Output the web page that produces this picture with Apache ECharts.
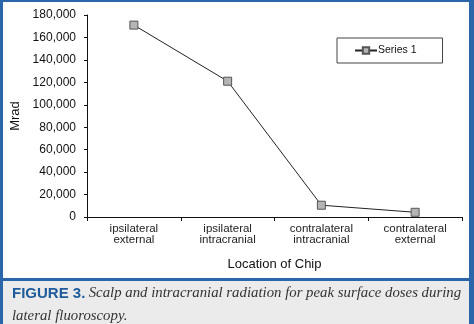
<!DOCTYPE html>
<html><head><meta charset="utf-8">
<script src="https://cdn.jsdelivr.net/npm/echarts@6/dist/echarts.min.js"></script>
<style>html,body{margin:0;padding:0;background:#fff}#c{width:474px;height:324px}</style>
</head><body><div id="c"></div>
<script>
var categories = ['ipsilateral\nexternal', 'ipsilateral\nintracranial', 'contralateral\nintracranial', 'contralateral\nexternal'];
var series1 = [171000, 121000, 10500, 4200];
var yTicks = {min: 0, max: 180000, interval: 20000};
var seriesName = 'Series 1';
var xTitle = 'Location of Chip';
var yTitle = 'Mrad';
var captionHead = 'FIGURE 3.';
var captionLine1 = 'Scalp and intracranial radiation for peak surface doses during';
var captionLine2 = 'lateral fluoroscopy.';

var chart = echarts.init(document.getElementById('c'), null, {renderer: 'canvas'});
var blue = '#2c66aa';
chart.setOption({
  animation: false,
  backgroundColor: '#ffffff',
  textStyle: {fontFamily: 'Liberation Sans'},
  grid: {left: 87, right: 12, top: 15, bottom: 107, containLabel: false},
  legend: {
    left: 337, top: 38,
    padding: [7, 26, 7, 17],
    borderColor: '#444', borderWidth: 1,
    itemWidth: 22, itemHeight: 8, itemGap: 0,
    textStyle: {fontSize: 10.5, color: '#111', padding: [0,0,0,-4]},
    data: [seriesName]
  },
  xAxis: {
    type: 'category', data: categories, boundaryGap: true,
    axisLine: {lineStyle: {color: '#111', width: 1}},
    axisTick: {show: true, length: 4, alignWithLabel: false, lineStyle: {color: '#111'}},
    axisLabel: {fontSize: 11.5, color: '#222', margin: 6, lineHeight: 11, interval: 0},
    name: xTitle, nameLocation: 'middle', nameGap: 41,
    nameTextStyle: {fontSize: 13, color: '#111'}
  },
  yAxis: {
    type: 'value', min: yTicks.min, max: yTicks.max, interval: yTicks.interval,
    splitLine: {show: false},
    axisLine: {show: true, lineStyle: {color: '#111', width: 1}},
    axisTick: {show: true, length: 3, lineStyle: {color: '#111'}},
    axisLabel: {fontSize: 12, color: '#111', margin: 11,
      formatter: function (v) { return v.toLocaleString('en-US'); }},
    name: yTitle, nameLocation: 'middle', nameGap: 64, nameRotate: 90,
    nameTextStyle: {fontSize: 13, color: '#111'}
  },
  series: [{
    name: seriesName, type: 'line', data: series1,
    symbol: 'rect', symbolSize: 8,
    lineStyle: {color: '#222', width: 1},
    itemStyle: {color: '#b5b5b5', borderColor: '#555', borderWidth: 1},
    emphasis: {disabled: true}
  }],
  graphic: [
    {type: 'rect', shape: {x: 0, y: 0, width: 474, height: 2}, style: {fill: blue}, silent: true},
    {type: 'rect', shape: {x: 0, y: 0, width: 3, height: 324}, style: {fill: blue}, silent: true},
    {type: 'rect', shape: {x: 469, y: 0, width: 5, height: 324}, style: {fill: blue}, silent: true},
    {type: 'rect', shape: {x: 3, y: 280, width: 466, height: 44}, style: {fill: '#ebebeb'}, silent: true},
    {type: 'rect', shape: {x: 3, y: 278, width: 466, height: 3}, style: {fill: blue}, silent: true},
    {type: 'text', left: 12, top: 286, silent: true,
      style: {
        text: '{h|' + captionHead + '} {i|' + captionLine1 + '}\n{i|' + captionLine2 + '}',
        rich: {
          h: {fontFamily: 'Liberation Sans', fontWeight: 'bold', fontSize: 15, fill: '#1d5b9a', lineHeight: 23},
          i: {fontFamily: 'Liberation Serif', fontStyle: 'italic', fontSize: 14.8, fill: '#333', lineHeight: 23}
        }
      }}
  ]
});
</script></body></html>
